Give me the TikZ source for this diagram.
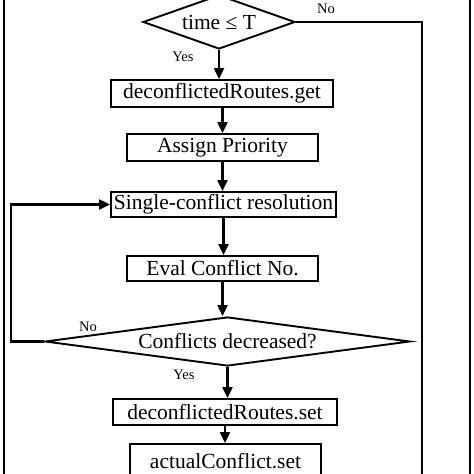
\documentclass[tikz,border=0pt]{standalone}
\usepackage{fontspec}
\setmainfont{Liberation Serif}
\usetikzlibrary{shapes.geometric,arrows.meta}
\tikzset{
  stepbox/.style={draw, line width=1.9pt, inner sep=0pt, font=\fontsize{21.5}{24}\selectfont},
  decision/.style={draw, diamond, line width=1.9pt, inner sep=0pt, font=\fontsize{21.5}{24}\selectfont},
  flow/.style={line width=2.2pt, -{Triangle[length=11pt,width=10pt]}},
  plainline/.style={line width=2.2pt},
  lbl/.style={font=\fontsize{14.5}{16}\selectfont, inner sep=1pt},
  frame/.style={line width=2.4pt}
}
\begin{document}
\begin{tikzpicture}[x=1pt,y=-1pt]
\useasboundingbox (0,0) rectangle (474,474);
\clip (0,0) rectangle (474,474);
\fill[white] (0,0) rectangle (474,474);
% frame lines
\coordinate (fl1) at (4,-5);
\coordinate (fl2) at (4,480);
\coordinate (fr1) at (470,-5);
\coordinate (fr2) at (470,480);
\draw[frame] (fl1) -- (fl2);
\draw[frame] (fr1) -- (fr2);
% nodes
\node[decision, aspect=3, minimum width=152pt, minimum height=54pt] (d1) at (219,22) {time ≤ T};
\node[stepbox, minimum width=222pt, minimum height=27pt] (b1) at (222,93.5) {deconflictedRoutes.get};
\node[stepbox, minimum width=191pt, minimum height=27pt] (b2) at (222.5,147.5) {Assign Priority};
\node[stepbox, minimum width=225pt, minimum height=25pt] (b3) at (223.5,204.5) {Single-conflict resolution};
\node[stepbox, minimum width=191pt, minimum height=25pt] (b4) at (222.5,268.5) {Eval Conflict No.};
\node[decision, aspect=7, minimum width=365pt, minimum height=49pt] (d2) at (227.5,341.5) {Conflicts decreased?};
\node[stepbox, minimum width=224pt, minimum height=26pt] (b5) at (225,412) {deconflictedRoutes.set};
\node[stepbox, minimum width=191pt, minimum height=34pt] (b6) at (225.5,461) {actualConflict.set};
% connectors
\coordinate (top) at (219,-20);
\draw[flow] (top) -- (d1.north);
\draw[flow] (d1.south) -- (d1.south |- b1.north);
\draw[flow] (b1.south -| b2.north) -- (b2.north);
\draw[flow] (b2.south) -- (b2.south |- b3.north);
\draw[flow] (b3.south) -- (b3.south |- b4.north);
\draw[flow] (b4.south) -- (b4.south |- d2.north);
\draw[flow] (d2.south) -- (d2.south |- b5.north);
\draw[flow] (b5.south) -- (b5.south |- b6.north);
\coordinate (nr) at (422,22);
\coordinate (nd) at (422,480);
\draw[plainline] (d1.east) -- (nr) -- (nd);
\coordinate (lb) at (11,341.5);
\coordinate (lt) at (11,204.5);
\draw[flow] (d2.west) -- (lb) -- (lt) -- (b3.west);
% labels
\node[lbl] (no1) at (326,9) {No};
\node[lbl] (yes1) at (183,57) {Yes};
\node[lbl, fill=white] (no2) at (88,327) {No};
\node[lbl] (yes2) at (184,375) {Yes};
\end{tikzpicture}
\end{document}
